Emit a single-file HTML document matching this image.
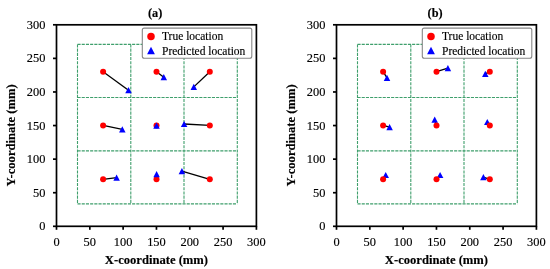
<!DOCTYPE html>
<html><head><meta charset="utf-8"><title>Location prediction</title>
<style>html,body{margin:0;padding:0;background:#fff;}svg{display:block;}text{stroke:#000;stroke-width:0.15px;}svg{filter:blur(0.35px);}</style>
</head><body>
<svg width="550" height="269" viewBox="0 0 550 269">
<rect width="550" height="269" fill="#fff"/>
<g stroke="#3f9f6c" stroke-width="1.1" stroke-dasharray="3.1 1.1" fill="none"><line x1="77.5" y1="44.4" x2="77.5" y2="203.9"/><line x1="130.8" y1="44.4" x2="130.8" y2="203.9"/><line x1="184.0" y1="44.4" x2="184.0" y2="203.9"/><line x1="237.3" y1="44.4" x2="237.3" y2="203.9"/><line x1="77.5" y1="44.4" x2="237.3" y2="44.4"/><line x1="77.5" y1="97.5" x2="237.3" y2="97.5"/><line x1="77.5" y1="150.9" x2="237.3" y2="150.9"/><line x1="77.5" y1="203.9" x2="237.3" y2="203.9"/></g>
<rect x="56.5" y="24.8" width="199.90" height="201.50" fill="none" stroke="#000" stroke-width="1.7"/>
<g stroke="#000" stroke-width="1.7"><line x1="53.0" y1="226.30" x2="56.5" y2="226.30"/><line x1="56.50" y1="226.3" x2="56.50" y2="229.8"/><line x1="53.0" y1="192.72" x2="56.5" y2="192.72"/><line x1="89.82" y1="226.3" x2="89.82" y2="229.8"/><line x1="53.0" y1="159.13" x2="56.5" y2="159.13"/><line x1="123.13" y1="226.3" x2="123.13" y2="229.8"/><line x1="53.0" y1="125.55" x2="56.5" y2="125.55"/><line x1="156.45" y1="226.3" x2="156.45" y2="229.8"/><line x1="53.0" y1="91.97" x2="56.5" y2="91.97"/><line x1="189.77" y1="226.3" x2="189.77" y2="229.8"/><line x1="53.0" y1="58.38" x2="56.5" y2="58.38"/><line x1="223.08" y1="226.3" x2="223.08" y2="229.8"/><line x1="53.0" y1="24.80" x2="56.5" y2="24.80"/><line x1="256.40" y1="226.3" x2="256.40" y2="229.8"/></g>
<g font-family='"Liberation Serif", "Times New Roman", serif' font-size="12.4" fill="#000"><text x="45.40" y="230.40" text-anchor="end">0</text><text x="56.50" y="245.70" text-anchor="middle">0</text><text x="45.40" y="196.82" text-anchor="end">50</text><text x="89.82" y="245.70" text-anchor="middle">50</text><text x="45.40" y="163.23" text-anchor="end">100</text><text x="123.13" y="245.70" text-anchor="middle">100</text><text x="45.40" y="129.65" text-anchor="end">150</text><text x="156.45" y="245.70" text-anchor="middle">150</text><text x="45.40" y="96.07" text-anchor="end">200</text><text x="189.77" y="245.70" text-anchor="middle">200</text><text x="45.40" y="62.48" text-anchor="end">250</text><text x="223.08" y="245.70" text-anchor="middle">250</text><text x="45.40" y="28.90" text-anchor="end">300</text><text x="256.40" y="245.70" text-anchor="middle">300</text></g>
<text x="156.45" y="263.7" text-anchor="middle" font-family='"Liberation Serif", "Times New Roman", serif' font-weight="bold" font-size="12.6">X-coordinate (mm)</text>
<text transform="translate(15.4 135.4) rotate(-90)" x="0" y="0" text-anchor="middle" font-family='"Liberation Serif", "Times New Roman", serif' font-weight="bold" font-size="12.6">Y-coordinate (mm)</text>
<text x="155.1" y="16.8" text-anchor="middle" font-family='"Liberation Serif", "Times New Roman", serif' font-weight="bold" font-size="12.3">(a)</text>
<g stroke="#000" stroke-width="1.3"><line x1="103.10" y1="71.70" x2="128.50" y2="90.20"/><line x1="156.50" y1="71.70" x2="163.80" y2="77.20"/><line x1="209.80" y1="71.70" x2="193.80" y2="86.90"/><line x1="103.10" y1="125.40" x2="122.30" y2="129.40"/><line x1="156.50" y1="125.40" x2="156.50" y2="125.60"/><line x1="209.80" y1="125.40" x2="184.10" y2="124.00"/><line x1="103.10" y1="179.30" x2="116.60" y2="177.70"/><line x1="156.50" y1="179.30" x2="156.60" y2="174.10"/><line x1="209.80" y1="179.30" x2="181.90" y2="171.20"/></g>
<circle cx="103.10" cy="71.70" r="3.0" fill="#ff0000"/><circle cx="156.50" cy="71.70" r="3.0" fill="#ff0000"/><circle cx="209.80" cy="71.70" r="3.0" fill="#ff0000"/><circle cx="103.10" cy="125.40" r="3.0" fill="#ff0000"/><circle cx="156.50" cy="125.40" r="3.0" fill="#ff0000"/><circle cx="209.80" cy="125.40" r="3.0" fill="#ff0000"/><circle cx="103.10" cy="179.30" r="3.0" fill="#ff0000"/><circle cx="156.50" cy="179.30" r="3.0" fill="#ff0000"/><circle cx="209.80" cy="179.30" r="3.0" fill="#ff0000"/>
<path d="M128.50 87.10L131.75 93.30L125.25 93.30Z" fill="#0000ff"/><path d="M163.80 74.10L167.05 80.30L160.55 80.30Z" fill="#0000ff"/><path d="M193.80 83.80L197.05 90.00L190.55 90.00Z" fill="#0000ff"/><path d="M122.30 126.30L125.55 132.50L119.05 132.50Z" fill="#0000ff"/><path d="M156.50 122.50L159.75 128.70L153.25 128.70Z" fill="#0000ff"/><path d="M184.10 120.90L187.35 127.10L180.85 127.10Z" fill="#0000ff"/><path d="M116.60 174.60L119.85 180.80L113.35 180.80Z" fill="#0000ff"/><path d="M156.60 171.00L159.85 177.20L153.35 177.20Z" fill="#0000ff"/><path d="M181.90 168.10L185.15 174.30L178.65 174.30Z" fill="#0000ff"/>
<rect x="142.3" y="28.1" width="109.5" height="30.2" rx="2" fill="#fff" stroke="#868686" stroke-width="1.1"/>
<circle cx="151.00" cy="36.40" r="3.75" fill="#ff0000"/>
<path d="M151.00 46.85L154.90 54.15L147.10 54.15Z" fill="#0000ff"/>
<g font-family='"Liberation Serif", "Times New Roman", serif' font-size="11.5" fill="#000"><text x="162.0" y="40.2">True location</text><text x="162.0" y="54.5">Predicted location</text></g>
<g stroke="#3f9f6c" stroke-width="1.1" stroke-dasharray="3.1 1.1" fill="none"><line x1="357.5" y1="44.4" x2="357.5" y2="203.9"/><line x1="410.8" y1="44.4" x2="410.8" y2="203.9"/><line x1="464.0" y1="44.4" x2="464.0" y2="203.9"/><line x1="517.3" y1="44.4" x2="517.3" y2="203.9"/><line x1="357.5" y1="44.4" x2="517.3" y2="44.4"/><line x1="357.5" y1="97.5" x2="517.3" y2="97.5"/><line x1="357.5" y1="150.9" x2="517.3" y2="150.9"/><line x1="357.5" y1="203.9" x2="517.3" y2="203.9"/></g>
<rect x="336.5" y="24.8" width="199.90" height="201.50" fill="none" stroke="#000" stroke-width="1.7"/>
<g stroke="#000" stroke-width="1.7"><line x1="333.0" y1="226.30" x2="336.5" y2="226.30"/><line x1="336.50" y1="226.3" x2="336.50" y2="229.8"/><line x1="333.0" y1="192.72" x2="336.5" y2="192.72"/><line x1="369.82" y1="226.3" x2="369.82" y2="229.8"/><line x1="333.0" y1="159.13" x2="336.5" y2="159.13"/><line x1="403.13" y1="226.3" x2="403.13" y2="229.8"/><line x1="333.0" y1="125.55" x2="336.5" y2="125.55"/><line x1="436.45" y1="226.3" x2="436.45" y2="229.8"/><line x1="333.0" y1="91.97" x2="336.5" y2="91.97"/><line x1="469.77" y1="226.3" x2="469.77" y2="229.8"/><line x1="333.0" y1="58.38" x2="336.5" y2="58.38"/><line x1="503.08" y1="226.3" x2="503.08" y2="229.8"/><line x1="333.0" y1="24.80" x2="336.5" y2="24.80"/><line x1="536.40" y1="226.3" x2="536.40" y2="229.8"/></g>
<g font-family='"Liberation Serif", "Times New Roman", serif' font-size="12.4" fill="#000"><text x="325.40" y="230.40" text-anchor="end">0</text><text x="336.50" y="245.70" text-anchor="middle">0</text><text x="325.40" y="196.82" text-anchor="end">50</text><text x="369.82" y="245.70" text-anchor="middle">50</text><text x="325.40" y="163.23" text-anchor="end">100</text><text x="403.13" y="245.70" text-anchor="middle">100</text><text x="325.40" y="129.65" text-anchor="end">150</text><text x="436.45" y="245.70" text-anchor="middle">150</text><text x="325.40" y="96.07" text-anchor="end">200</text><text x="469.77" y="245.70" text-anchor="middle">200</text><text x="325.40" y="62.48" text-anchor="end">250</text><text x="503.08" y="245.70" text-anchor="middle">250</text><text x="325.40" y="28.90" text-anchor="end">300</text><text x="536.40" y="245.70" text-anchor="middle">300</text></g>
<text x="436.45" y="263.7" text-anchor="middle" font-family='"Liberation Serif", "Times New Roman", serif' font-weight="bold" font-size="12.6">X-coordinate (mm)</text>
<text transform="translate(295.4 135.4) rotate(-90)" x="0" y="0" text-anchor="middle" font-family='"Liberation Serif", "Times New Roman", serif' font-weight="bold" font-size="12.6">Y-coordinate (mm)</text>
<text x="435.1" y="16.8" text-anchor="middle" font-family='"Liberation Serif", "Times New Roman", serif' font-weight="bold" font-size="12.3">(b)</text>
<g stroke="#000" stroke-width="1.3"><line x1="383.10" y1="71.70" x2="387.00" y2="77.80"/><line x1="436.50" y1="71.70" x2="447.90" y2="68.10"/><line x1="489.80" y1="71.70" x2="485.30" y2="73.80"/><line x1="383.10" y1="125.40" x2="389.60" y2="127.20"/><line x1="436.50" y1="125.40" x2="434.70" y2="119.70"/><line x1="489.80" y1="125.40" x2="487.30" y2="122.00"/><line x1="383.10" y1="179.30" x2="385.70" y2="175.00"/><line x1="436.50" y1="179.30" x2="440.10" y2="175.00"/><line x1="489.80" y1="179.30" x2="483.40" y2="177.20"/></g>
<path d="M387.00 74.70L390.25 80.90L383.75 80.90Z" fill="#0000ff"/><path d="M447.90 65.00L451.15 71.20L444.65 71.20Z" fill="#0000ff"/><path d="M485.30 70.70L488.55 76.90L482.05 76.90Z" fill="#0000ff"/><path d="M389.60 124.10L392.85 130.30L386.35 130.30Z" fill="#0000ff"/><path d="M434.70 116.60L437.95 122.80L431.45 122.80Z" fill="#0000ff"/><path d="M487.30 118.90L490.55 125.10L484.05 125.10Z" fill="#0000ff"/><path d="M385.70 171.90L388.95 178.10L382.45 178.10Z" fill="#0000ff"/><path d="M440.10 171.90L443.35 178.10L436.85 178.10Z" fill="#0000ff"/><path d="M483.40 174.10L486.65 180.30L480.15 180.30Z" fill="#0000ff"/>
<circle cx="383.10" cy="71.70" r="3.0" fill="#ff0000"/><circle cx="436.50" cy="71.70" r="3.0" fill="#ff0000"/><circle cx="489.80" cy="71.70" r="3.0" fill="#ff0000"/><circle cx="383.10" cy="125.40" r="3.0" fill="#ff0000"/><circle cx="436.50" cy="125.40" r="3.0" fill="#ff0000"/><circle cx="489.80" cy="125.40" r="3.0" fill="#ff0000"/><circle cx="383.10" cy="179.30" r="3.0" fill="#ff0000"/><circle cx="436.50" cy="179.30" r="3.0" fill="#ff0000"/><circle cx="489.80" cy="179.30" r="3.0" fill="#ff0000"/>
<rect x="422.3" y="28.1" width="109.5" height="30.2" rx="2" fill="#fff" stroke="#868686" stroke-width="1.1"/>
<circle cx="431.00" cy="36.40" r="3.75" fill="#ff0000"/>
<path d="M431.00 46.85L434.90 54.15L427.10 54.15Z" fill="#0000ff"/>
<g font-family='"Liberation Serif", "Times New Roman", serif' font-size="11.5" fill="#000"><text x="442.0" y="40.2">True location</text><text x="442.0" y="54.5">Predicted location</text></g>
</svg>
</body></html>
